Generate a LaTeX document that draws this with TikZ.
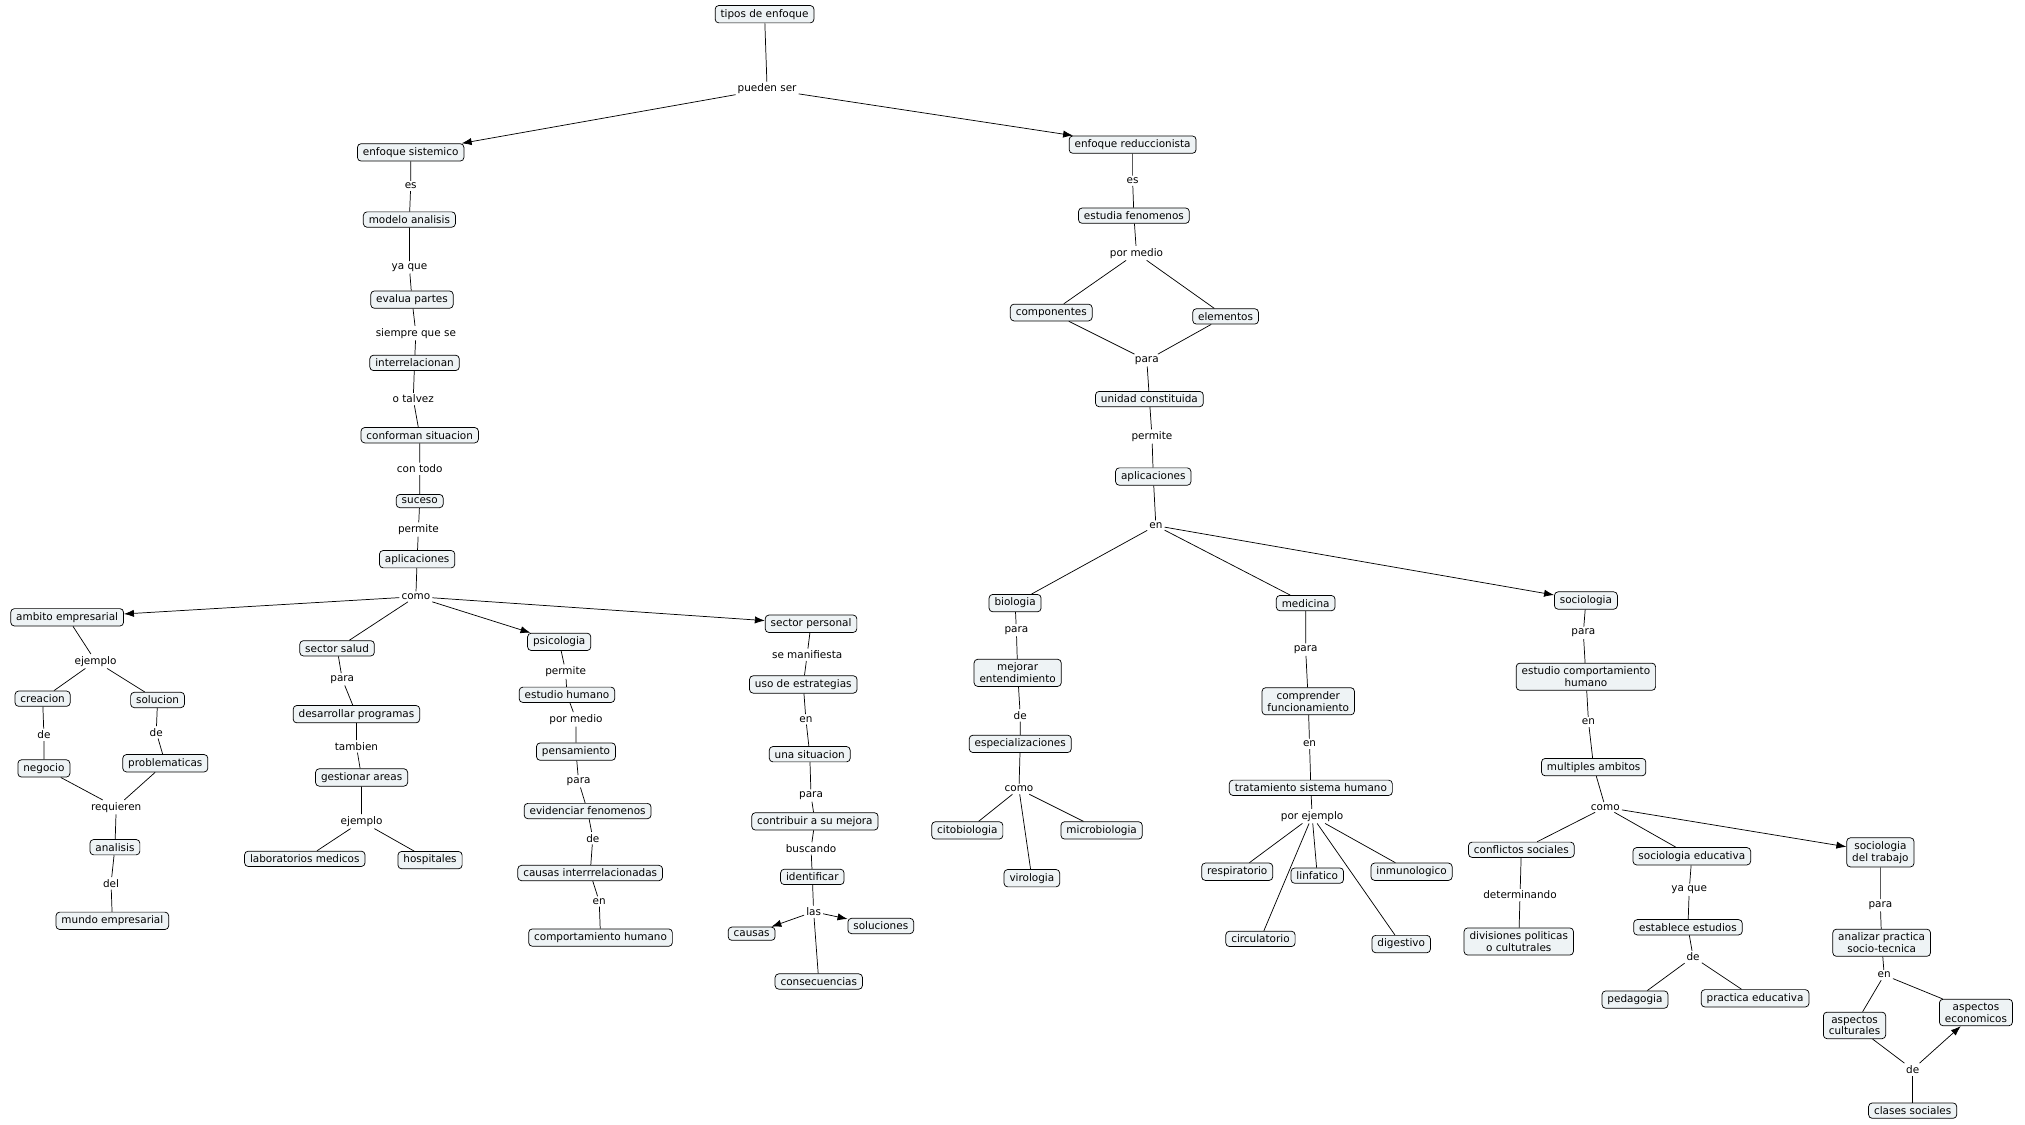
\documentclass[tikz,border=0pt]{standalone}
\usepackage{fontspec}
\setmainfont{DejaVu Sans}
\usetikzlibrary{arrows.meta}
\definecolor{boxfill}{HTML}{EEF3F5}
\newcommand\Bx[4]{\node[box] (#1) at (#2,#3) {#4};}
\newcommand\Lb[4]{\node[lab] (#1) at (#2,#3) {#4};}
\begin{document}
\begin{tikzpicture}[x=0.05cm,y=-0.05cm,
  box/.style={draw=black,fill=boxfill,rounded corners=4pt,inner xsep=6pt,inner ysep=4pt,align=center,font=\fontsize{11.5}{13}\selectfont},
  lab/.style={inner sep=2pt,align=center,font=\fontsize{11.5}{13}\selectfont},
  ar/.style={-{Latex[length=11pt,width=8pt]}},
  every path/.style={line width=0.8pt}]
\useasboundingbox (0,0) rectangle (1568,871);
\Bx{t}{592}{11}{tipos de enfoque}
\Lb{ps}{594}{69}{pueden ser}
\Bx{es1}{318}{118}{enfoque sistemico}
\Bx{er}{877}{112}{enfoque reduccionista}
\Lb{l1}{318}{144}{es}
\Bx{ma}{317}{170}{modelo analisis}
\Lb{l2}{317}{207}{ya que}
\Bx{ep}{319}{232}{evalua partes}
\Lb{l3}{322}{258}{siempre que se}
\Bx{ir}{321}{281}{interrelacionan}
\Lb{l4}{320}{309}{o talvez}
\Bx{cs}{325}{337}{conforman situacion}
\Lb{l5}{325}{363}{con todo}
\Bx{su}{325}{388}{suceso}
\Lb{l6}{324}{410}{permite}
\Bx{ap1}{323}{433}{aplicaciones}
\Lb{como1}{322}{462}{como}
\Bx{ae}{52}{478}{ambito empresarial}
\Bx{ss}{261}{502}{sector salud}
\Bx{psi}{433}{497}{psicologia}
\Bx{sp}{628}{483}{sector personal}
\Lb{ej1}{74}{512}{ejemplo}
\Bx{cr}{33}{541}{creacion}
\Bx{so}{122}{542}{solucion}
\Lb{de1}{34}{569}{de}
\Lb{de2}{121}{567}{de}
\Bx{ne}{34}{595}{negocio}
\Bx{pr}{128}{591}{problematicas}
\Lb{rq}{90}{625}{requieren}
\Bx{an}{89}{656}{analisis}
\Lb{del}{86}{684}{del}
\Bx{me}{87}{713}{mundo empresarial}
\Lb{pa1}{265}{526}{para}
\Bx{dp}{276}{553}{desarrollar programas}
\Lb{tb}{276}{578}{tambien}
\Bx{ga}{280}{602}{gestionar areas}
\Lb{ej2}{280}{636}{ejemplo}
\Bx{lm}{236}{665}{laboratorios medicos}
\Bx{ho}{333}{666}{hospitales}
\Lb{pe1}{438}{520}{permite}
\Bx{eh}{439}{538}{estudio humano}
\Lb{pm1}{446}{557}{por medio}
\Bx{pn}{446}{582}{pensamiento}
\Lb{pa2}{448}{605}{para}
\Bx{ef}{455}{628}{evidenciar fenomenos}
\Lb{de3}{459}{649}{de}
\Bx{ci}{457}{676}{causas interrrelacionadas}
\Lb{en1}{464}{698}{en}
\Bx{ch}{465}{726}{comportamiento humano}
\Lb{sm}{625}{507}{se manifiesta}
\Bx{ue}{622}{530}{uso de estrategias}
\Lb{en2}{624}{557}{en}
\Bx{us}{627}{584}{una situacion}
\Lb{pa3}{628}{616}{para}
\Bx{cm}{631}{636}{contribuir a su mejora}
\Lb{bu}{628}{657}{buscando}
\Bx{id}{629}{679}{identificar}
\Lb{las}{630}{706}{las}
\Bx{ca}{582}{723}{causas}
\Bx{sol}{682}{717}{soluciones}
\Bx{co}{634}{760}{consecuencias}
\Lb{l7}{877}{140}{es}
\Bx{ef2}{878}{167}{estudia fenomenos}
\Lb{pm2}{880}{196}{por medio}
\Bx{cp}{814}{242}{componentes}
\Bx{el}{949}{245}{elementos}
\Lb{pa4}{888}{279}{para}
\Bx{uc}{890}{309}{unidad constituida}
\Lb{pe2}{892}{338}{permite}
\Bx{ap2}{893}{369}{aplicaciones}
\Lb{en3}{895}{407}{en}
\Bx{bi}{786}{467}{biologia}
\Bx{md}{1011}{467}{medicina}
\Bx{so2}{1228}{465}{sociologia}
\Lb{pa5}{787}{488}{para}
\Bx{mj}{788}{521}{mejorar\\entendimiento}
\Lb{de4}{790}{554}{de}
\Bx{es2}{790}{576}{especializaciones}
\Lb{como2}{789}{611}{como}
\Bx{cb}{749}{643}{citobiologia}
\Bx{mb}{853}{643}{microbiologia}
\Bx{vi}{799}{680}{virologia}
\Lb{pa6}{1011}{503}{para}
\Bx{cf}{1013}{543}{comprender\\funcionamiento}
\Lb{en4}{1014}{576}{en}
\Bx{ts}{1015}{610}{tratamiento sistema humano}
\Lb{pe3}{1016}{632}{por ejemplo}
\Bx{re}{958}{675}{respiratorio}
\Bx{li}{1020}{678}{linfatico}
\Bx{in}{1093}{675}{inmunologico}
\Bx{ci2}{976}{727}{circulatorio}
\Bx{di}{1085}{731}{digestivo}
\Lb{pa7}{1226}{490}{para}
\Bx{ec}{1228}{524}{estudio comportamiento\\humano}
\Lb{en5}{1230}{559}{en}
\Bx{ma2}{1234}{594}{multiples ambitos}
\Lb{como3}{1243}{625}{como}
\Bx{cso}{1178}{658}{conflictos sociales}
\Bx{se}{1310}{663}{sociologia educativa}
\Bx{st}{1456}{660}{sociologia\\del trabajo}
\Lb{dt}{1177}{693}{determinando}
\Bx{dv}{1176}{729}{divisiones politicas\\o cultutrales}
\Lb{yq}{1308}{689}{ya que}
\Bx{ee}{1307}{718}{establece estudios}
\Lb{de5}{1311}{741}{de}
\Bx{pg}{1266}{774}{pedagogia}
\Bx{pe}{1359}{773}{practica educativa}
\Lb{pa8}{1456}{701}{para}
\Bx{aps}{1457}{730}{analizar practica\\socio-tecnica}
\Lb{en6}{1459}{755}{en}
\Bx{ac}{1436}{794}{aspectos\\culturales}
\Bx{aec}{1530}{784}{aspectos\\economicos}
\Lb{de6}{1481}{828}{de}
\Bx{cls}{1481}{860}{clases sociales}
% edges
\draw (t)--(ps);
\draw[ar] (ps)--(es1); \draw[ar] (ps)--(er);
\draw (es1)--(l1)--(ma)--(l2)--(ep)--(l3)--(ir)--(l4)--(cs)--(l5)--(su)--(l6)--(ap1)--(como1);
\draw[ar] (como1)--(ae); \draw (como1)--(ss); \draw[ar] (como1)--(psi); \draw[ar] (como1)--(sp);
\draw (ae)--(ej1); \draw (ej1)--(cr); \draw (ej1)--(so);
\draw (cr)--(de1)--(ne); \draw (so)--(de2)--(pr);
\draw (ne)--(rq); \draw (pr)--(rq); \draw (rq)--(an)--(del)--(me);
\draw (ss)--(pa1)--(dp)--(tb)--(ga)--(ej2); \draw (ej2)--(lm); \draw (ej2)--(ho);
\draw (psi)--(pe1)--(eh)--(pm1)--(pn)--(pa2)--(ef)--(de3)--(ci)--(en1)--(ch);
\draw (sp)--(sm)--(ue)--(en2)--(us)--(pa3)--(cm)--(bu)--(id)--(las);
\draw[ar] (las)--(ca); \draw[ar] (las)--(sol); \draw (las)--(co);
\draw (er)--(l7)--(ef2)--(pm2); \draw (pm2)--(cp); \draw (pm2)--(el);
\draw (cp)--(pa4); \draw (el)--(pa4); \draw (pa4)--(uc)--(pe2)--(ap2)--(en3);
\draw (en3)--(bi); \draw (en3)--(md); \draw[ar] (en3)--(so2);
\draw (bi)--(pa5)--(mj)--(de4)--(es2)--(como2);
\draw (como2)--(cb); \draw (como2)--(mb); \draw (como2)--(vi);
\draw (md)--(pa6)--(cf)--(en4)--(ts)--(pe3);
\draw (pe3)--(re); \draw (pe3)--(li); \draw (pe3)--(in); \draw (pe3)--(ci2); \draw (pe3)--(di);
\draw (so2)--(pa7)--(ec)--(en5)--(ma2)--(como3);
\draw (como3)--(cso); \draw (como3)--(se); \draw[ar] (como3)--(st);
\draw (cso)--(dt)--(dv);
\draw (se)--(yq)--(ee)--(de5); \draw (de5)--(pg); \draw (de5)--(pe);
\draw (st)--(pa8)--(aps)--(en6); \draw (en6)--(ac); \draw (en6)--(aec);
\draw (cls)--(de6); \draw (de6)--(ac); \draw[ar] (de6)--(aec);
\end{tikzpicture}
\end{document}
